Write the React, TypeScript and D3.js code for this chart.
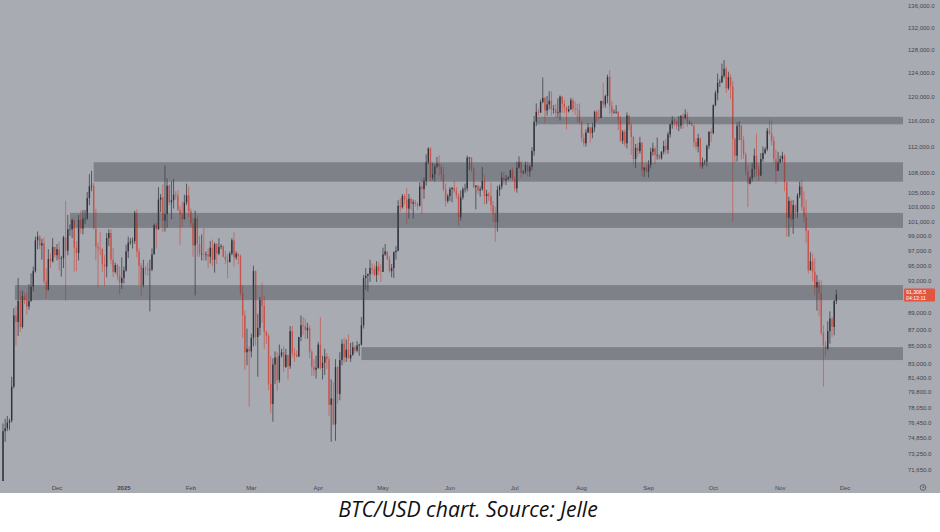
import React, { useMemo } from "react";
import * as d3 from "d3";

// ---------- DATA (prices in thousands of USD, daily candles from 2024-11-06) ----------
const firstDay = "2024-11-06";
const firstOpen = 69.4;

const closes = [
  // Nov 2024 (6-30)
  75.6, 75.9, 76.5, 76.7, 80.4, 88.7, 87.9, 90.5, 87.3, 91.1, 90.6, 89.8, 90.5, 92.3, 94.3, 98.4, 98.9, 97.7, 98.0, 93.0, 91.9, 95.9, 95.6, 97.5, 96.4,
  // Dec 2024
  97.2, 95.9, 96.0, 98.8, 97.0, 99.9, 99.9, 101.2, 97.4, 96.7, 101.2, 100.0, 101.4, 101.4, 104.3, 106.0, 106.1, 100.0, 97.5, 97.3, 97.2, 95.2, 94.9, 98.7, 99.4, 95.8, 94.2, 95.1, 93.7, 92.8, 93.4,
  // Jan 2025
  94.4, 96.9, 98.1, 98.2, 98.3, 102.2, 96.9, 95.0, 92.5, 94.7, 94.6, 94.5, 94.5, 96.5, 100.5, 99.9, 104.1, 104.4, 101.1, 102.0, 106.1, 103.7, 104.0, 104.8, 104.7, 102.6, 102.0, 101.3, 103.7, 104.7, 102.4,
  // Feb 2025
  100.7, 97.7, 101.4, 97.9, 96.6, 96.6, 96.5, 96.5, 96.2, 97.4, 95.8, 97.9, 96.6, 97.5, 97.6, 96.2, 95.8, 95.5, 96.6, 98.4, 96.1, 96.6, 96.3, 91.5, 88.7, 84.3, 84.7, 84.4,
  // Mar 2025
  86.0, 94.3, 86.1, 87.2, 90.6, 89.9, 86.7, 86.2, 80.7, 78.5, 82.9, 83.7, 81.1, 83.9, 84.3, 82.6, 84.0, 82.7, 86.8, 84.2, 84.0, 83.8, 86.1, 87.5, 87.4, 86.9, 87.2, 84.3, 82.6, 82.3, 82.5,
  // Apr 2025
  85.2, 82.5, 83.1, 83.8, 83.5, 78.4, 79.1, 76.3, 82.6, 79.6, 83.4, 85.3, 83.7, 84.6, 83.6, 84.0, 84.9, 84.5, 85.1, 85.2, 87.5, 93.4, 93.7, 93.9, 94.7, 94.6, 93.8, 94.9, 94.3, 94.2,
  // May 2025
  96.5, 96.9, 95.9, 94.3, 94.7, 96.8, 97.0, 103.2, 103.0, 104.6, 104.1, 102.8, 104.2, 103.5, 103.7, 103.5, 103.2, 106.0, 105.6, 106.8, 109.6, 111.7, 107.3, 107.8, 109.0, 109.4, 108.9, 107.8, 105.6, 103.9, 104.6,
  // Jun 2025
  105.6, 105.8, 105.4, 104.7, 101.6, 104.4, 105.6, 105.7, 110.3, 110.3, 108.6, 105.9, 106.1, 105.4, 105.6, 106.8, 104.6, 104.9, 104.6, 103.3, 102.1, 100.9, 105.5, 106.0, 107.3, 106.9, 107.1, 107.3, 108.4, 107.1,
  // Jul 2025
  105.7, 108.8, 109.6, 108.0, 108.2, 109.2, 108.2, 108.9, 111.3, 115.9, 117.5, 117.4, 119.1, 119.8, 117.7, 118.7, 119.3, 117.9, 117.9, 117.3, 117.4, 120.0, 118.8, 118.3, 117.6, 117.9, 119.4, 118.0, 117.9, 117.8, 115.8,
  // Aug 2025
  113.3, 112.5, 114.2, 115.0, 114.1, 115.0, 117.5, 116.7, 116.5, 119.3, 118.7, 120.1, 123.3, 118.4, 117.4, 117.5, 117.5, 116.3, 112.9, 114.3, 112.5, 116.9, 115.4, 113.5, 110.1, 111.8, 111.3, 112.6, 108.4, 108.8, 108.2,
  // Sep 2025
  109.2, 111.2, 111.7, 110.7, 110.7, 110.2, 111.2, 112.1, 111.5, 113.9, 115.5, 116.1, 115.9, 115.3, 115.3, 116.8, 116.5, 117.1, 115.7, 115.7, 115.3, 112.7, 112.0, 113.3, 109.0, 109.6, 109.7, 112.1, 114.3, 114.1,
  // Oct 2025
  118.6, 120.6, 122.3, 122.4, 123.5, 124.7, 121.4, 123.3, 121.7, 113.2, 110.6, 115.2, 115.3, 113.0, 110.8, 108.2, 106.4, 107.2, 108.6, 110.6, 108.5, 107.6, 110.1, 111.0, 111.6, 114.5, 114.1, 112.9, 110.1, 108.3, 109.6,
  // Nov 2025 (1-27)
  110.1, 110.6, 106.6, 101.5, 103.9, 101.3, 103.3, 102.3, 104.7, 106.0, 103.0, 101.6, 99.7, 94.4, 95.6, 94.2, 92.2, 92.9, 91.5, 86.6, 85.1, 84.7, 86.8, 88.3, 87.3, 90.5, 91.3,
];

const highs = [
  76.4, 76.9, 77.2, 76.9, 81.5, 89.6, 89.9, 93.4, 91.8, 91.8, 91.5, 91.6, 92.6, 94.0, 94.9, 98.9, 99.6, 99.1, 98.6, 98.8, 94.7, 97.2, 96.6, 98.7, 97.5,
  97.9, 98.2, 96.3, 99.0, 103.9, 101.9, 100.6, 101.4, 101.2, 98.3, 101.9, 102.5, 102.6, 102.6, 105.2, 107.8, 108.3, 106.5, 102.8, 98.1, 99.5, 97.3, 96.4, 99.4, 99.9, 99.9, 97.4, 95.4, 95.2, 94.9, 96.1,
  94.9, 97.8, 98.9, 98.7, 98.8, 102.5, 102.7, 97.3, 95.4, 95.8, 95.0, 95.4, 95.8, 97.3, 100.7, 100.8, 105.9, 104.9, 106.3, 109.1, 107.2, 106.3, 106.8, 107.1, 105.3, 105.5, 103.2, 103.8, 104.8, 106.4, 106.0,
  102.8, 101.5, 102.5, 101.7, 99.0, 99.2, 100.1, 96.9, 97.3, 98.3, 98.5, 98.1, 98.0, 98.7, 97.9, 97.7, 97.0, 96.6, 96.9, 98.7, 99.5, 96.9, 96.5, 96.5, 92.5, 89.3, 87.1, 85.0,
  86.5, 95.0, 94.4, 88.9, 91.0, 92.8, 91.2, 86.9, 86.5, 83.9, 83.6, 84.4, 84.3, 85.2, 84.7, 85.0, 84.7, 83.9, 87.4, 87.4, 84.8, 84.5, 86.1, 88.7, 88.5, 88.3, 87.8, 87.5, 84.6, 83.5, 83.9,
  85.5, 88.5, 83.9, 84.7, 84.2, 83.8, 81.2, 80.9, 83.5, 82.7, 84.3, 85.8, 86.0, 85.8, 86.4, 85.4, 85.5, 85.1, 85.6, 85.3, 88.5, 93.8, 94.7, 94.0, 95.8, 95.3, 95.1, 95.6, 95.5, 95.2,
  97.4, 97.9, 96.9, 96.3, 95.2, 96.9, 97.6, 104.0, 104.3, 104.9, 104.9, 105.8, 104.9, 104.3, 104.1, 104.0, 103.7, 106.6, 107.1, 107.3, 110.8, 111.9, 111.9, 109.5, 109.3, 110.4, 110.7, 109.3, 108.9, 106.4, 104.9,
  105.9, 105.9, 106.8, 105.9, 105.0, 105.4, 105.9, 106.4, 110.6, 110.4, 110.4, 108.9, 106.2, 106.2, 106.0, 108.9, 107.7, 105.5, 105.2, 106.5, 103.9, 103.1, 106.1, 106.3, 108.1, 108.2, 107.7, 107.5, 108.5, 108.8,
  107.5, 109.7, 110.5, 109.8, 108.4, 109.7, 109.7, 109.2, 111.9, 116.8, 118.9, 118.0, 119.5, 123.2, 119.9, 120.1, 120.9, 120.9, 118.6, 118.8, 119.7, 120.2, 120.1, 119.5, 118.4, 118.5, 119.8, 119.8, 119.2, 118.8, 118.9,
  116.1, 114.0, 114.7, 115.7, 115.1, 115.7, 117.7, 117.8, 117.9, 119.3, 122.3, 120.3, 123.7, 124.5, 119.3, 117.9, 118.6, 117.6, 116.8, 114.6, 114.7, 117.4, 117.0, 115.7, 113.7, 112.4, 112.6, 113.5, 112.7, 108.9, 109.5,
  109.9, 111.8, 112.6, 112.0, 113.4, 110.9, 111.3, 112.9, 113.2, 114.3, 115.6, 116.8, 116.4, 116.1, 116.8, 117.0, 117.3, 117.9, 117.5, 116.1, 115.9, 115.4, 113.3, 114.0, 113.4, 110.3, 110.0, 112.3, 114.4, 114.8,
  118.7, 121.0, 123.9, 122.9, 125.6, 126.2, 125.1, 124.2, 123.8, 122.6, 113.4, 115.8, 116.0, 115.4, 113.6, 111.1, 109.0, 107.5, 109.5, 111.7, 114.0, 109.1, 111.0, 112.0, 111.9, 114.9, 116.3, 116.1, 113.6, 111.6, 111.2,
  110.6, 111.2, 110.8, 106.6, 104.5, 104.1, 104.0, 103.4, 105.0, 106.7, 107.0, 105.3, 104.1, 99.8, 96.8, 96.6, 96.0, 93.8, 93.2, 93.1, 87.5, 85.6, 88.0, 89.2, 88.5, 90.6, 91.9,
];

const lows = [
  69.3, 74.5, 75.6, 75.7, 76.5, 80.2, 85.1, 86.2, 86.7, 87.1, 90.1, 88.8, 89.4, 90.4, 91.7, 94.1, 97.2, 97.2, 95.8, 92.6, 90.8, 91.8, 94.7, 95.4, 96.1,
  95.7, 94.4, 93.6, 94.7, 90.5, 96.4, 99.0, 98.7, 94.2, 94.3, 95.7, 99.3, 99.2, 100.6, 101.2, 103.3, 105.3, 100.0, 95.7, 92.2, 96.4, 94.2, 92.4, 93.5, 97.6, 95.2, 93.5, 94.0, 93.1, 91.3, 92.0,
  92.7, 94.2, 96.0, 97.8, 97.3, 97.9, 96.1, 92.5, 91.2, 92.2, 93.8, 93.7, 89.2, 94.3, 96.5, 97.3, 99.9, 102.3, 99.5, 99.6, 100.1, 103.3, 101.3, 102.8, 104.1, 102.5, 97.8, 100.3, 101.3, 103.3, 101.6,
  100.3, 96.2, 91.2, 96.2, 96.2, 95.7, 95.7, 95.7, 94.7, 95.3, 94.9, 94.1, 95.2, 96.4, 97.2, 96.1, 95.2, 93.4, 95.4, 96.4, 94.9, 95.8, 95.2, 91.2, 86.0, 82.3, 82.8, 78.2,
  83.7, 85.0, 85.1, 81.5, 86.3, 87.8, 84.7, 85.3, 80.0, 77.5, 76.6, 80.7, 79.9, 80.8, 83.7, 82.0, 82.5, 81.2, 82.4, 83.7, 83.2, 83.7, 83.8, 85.6, 86.3, 85.9, 85.9, 83.6, 81.6, 81.6, 81.3,
  82.4, 82.3, 81.2, 81.7, 82.4, 77.2, 74.5, 76.2, 74.6, 78.5, 78.9, 82.8, 83.1, 83.2, 83.6, 83.2, 83.9, 84.2, 84.3, 83.9, 85.1, 87.1, 91.9, 91.7, 92.9, 93.9, 93.6, 92.9, 93.8, 92.9,
  94.2, 96.3, 95.7, 94.1, 93.5, 93.4, 95.8, 96.9, 102.3, 102.8, 103.3, 100.7, 101.4, 102.6, 101.4, 103.1, 102.6, 103.1, 102.0, 104.2, 106.1, 109.3, 106.8, 106.9, 106.7, 108.7, 107.6, 106.8, 105.3, 103.1, 103.6,
  103.9, 103.7, 105.1, 104.2, 100.4, 101.1, 104.1, 105.1, 105.3, 108.4, 108.1, 105.7, 102.7, 104.9, 104.5, 105.4, 103.4, 103.5, 103.9, 102.4, 100.9, 98.2, 99.6, 104.6, 105.6, 106.3, 106.2, 106.9, 107.2, 106.8,
  105.3, 105.1, 108.6, 107.3, 107.8, 107.8, 107.5, 107.4, 108.4, 110.6, 115.2, 116.9, 117.3, 118.9, 115.7, 116.9, 117.9, 116.9, 117.2, 116.5, 116.6, 116.1, 117.4, 117.3, 114.7, 117.4, 117.8, 117.5, 117.0, 115.8, 115.6,
  112.7, 112.0, 112.0, 114.1, 112.6, 113.3, 114.3, 115.9, 116.3, 116.5, 118.1, 118.2, 118.9, 117.2, 116.8, 117.2, 117.2, 114.6, 112.7, 112.4, 112.0, 111.7, 114.6, 110.7, 109.3, 108.7, 110.4, 110.9, 107.5, 107.4, 108.1,
  107.3, 108.7, 110.6, 109.3, 110.0, 109.9, 110.0, 110.8, 110.8, 110.9, 113.4, 114.8, 115.2, 114.7, 114.4, 114.8, 114.8, 116.3, 115.1, 115.5, 115.2, 111.9, 111.5, 111.1, 108.7, 108.6, 109.2, 109.0, 111.6, 112.7,
  113.9, 118.4, 119.4, 121.6, 122.3, 123.1, 120.6, 121.1, 119.6, 101.0, 109.6, 109.7, 113.0, 110.0, 110.1, 107.6, 103.0, 106.3, 106.7, 107.4, 107.5, 106.8, 107.5, 109.7, 110.8, 111.3, 113.8, 112.2, 109.4, 106.4, 108.7,
  109.4, 109.6, 105.3, 98.9, 98.9, 100.3, 99.3, 101.4, 101.5, 104.3, 102.5, 100.8, 98.0, 94.0, 94.6, 93.0, 91.2, 89.3, 88.6, 86.3, 80.4, 83.8, 84.6, 85.3, 86.1, 86.3, 90.1,
];

// Horizontal support / resistance zones (thousands USD)
const zoneStarts = ["2024-12-18T00:00Z", "2024-12-07T00:00Z", "2024-11-11T12:00Z", "2025-04-21T00:00Z", "2025-07-11T00:00Z"];
const zoneLows = [106.7, 100.1, 90.6, 83.4, 115.5];
const zoneHighs = [109.6, 102.2, 92.5, 84.9, 116.7];

// Right price-axis labels
const priceTicks = [136000, 132000, 128000, 124000, 120000, 116000, 112000, 108000, 105000, 103000, 101000, 99000, 97000, 95000, 93000, 89000, 87000, 85000, 83000, 81400, 79800, 78050, 76450, 74850, 73250, 71650];

const lastPriceText = "91,308.5";
const countdownText = "04:13:11";
const captionText = "BTC/USD chart. Source: Jelle";

// ---------- COMPONENT ----------
const W = 940;
const H = 532;
const PLOT_R = 903;
const PLOT_B = 481;
const BG = "#a9abb3";
const UP = "#30323a";
const DOWN = "#c9544b";
const AXIS_TXT = "#43454d";

export default function App() {
  const x = d3
    .scaleUtc()
    .domain([new Date("2024-12-01T00:00Z"), new Date("2025-12-01T00:00Z")])
    .range([57, 845]);
  const y = d3.scaleLog().domain([71650, 136000]).range([470, 6]);

  const candles = useMemo(() => {
    const start = new Date(firstDay + "T00:00Z");
    return closes.map((c, i) => {
      const o = i === 0 ? firstOpen : closes[i - 1];
      return {
        date: d3.utcDay.offset(start, i),
        open: o,
        close: c,
        high: Math.max(highs[i], o, c),
        low: Math.min(lows[i], o, c),
      };
    });
  }, []);

  const monthTicks = x.ticks(d3.utcMonth.every(1));
  const fmtMonth = d3.utcFormat("%b");
  const fmtPrice = d3.format(",.1f");
  const bodyW = 1.4;

  const lastClose = closes[closes.length - 1] * 1000;
  const lastY = y(lastClose);

  return (
    <div style={{ position: "fixed", left: 0, top: 0 }}>
      <svg width={W} height={H} style={{ display: "block" }}>
        <defs>
          <clipPath id="plot">
            <rect x={0} y={0} width={PLOT_R} height={PLOT_B} />
          </clipPath>
        </defs>
        <rect x={0} y={0} width={W} height={H} fill="#ffffff" />
        <rect x={0} y={0} width={W} height={493} fill={BG} />

        <g clipPath="url(#plot)">
          {candles.map((d, i) => {
            const cx = x(d.date);
            const col = d.close >= d.open ? UP : DOWN;
            const yTop = y(Math.max(d.open, d.close) * 1000);
            const yBot = y(Math.min(d.open, d.close) * 1000);
            return (
              <g key={i}>
                <line x1={cx} x2={cx} y1={y(d.high * 1000)} y2={y(d.low * 1000)} stroke={col} strokeWidth={0.7} />
                <rect x={cx - bodyW / 2} y={yTop} width={bodyW} height={Math.max(0.6, yBot - yTop)} fill={col} />
              </g>
            );
          })}
          {zoneStarts.map((s, i) => {
            const x0 = x(new Date(s));
            const y0 = y(zoneHighs[i] * 1000);
            const y1 = y(zoneLows[i] * 1000);
            return <rect key={i} x={x0} y={y0} width={PLOT_R - x0} height={y1 - y0} fill="rgba(66,68,76,0.4)" />;
          })}
        </g>

        {/* right price axis */}
        <g fontFamily="'Liberation Sans', Arial, sans-serif" fontSize={6} fill={AXIS_TXT}>
          {priceTicks.map((p) => (
            <text key={p} x={908} y={y(p)} dy="0.35em">
              {fmtPrice(p)}
            </text>
          ))}
        </g>

        {/* last price label */}
        <g fontFamily="'Liberation Sans', Arial, sans-serif" fontSize={5.2} fill="#ffffff">
          <rect x={904} y={lastY - 6} width={31} height={13} fill="#e2553f" rx={1} />
          <text x={906} y={lastY - 1}>{lastPriceText}</text>
          <text x={906} y={lastY + 5}>{countdownText}</text>
        </g>

        {/* bottom time axis */}
        <g fontFamily="'Liberation Sans', Arial, sans-serif" fontSize={6} fill={AXIS_TXT} textAnchor="middle">
          {monthTicks.map((t) => (
            <text key={+t} x={x(t)} y={490} fontWeight={t.getUTCMonth() === 0 ? "bold" : "normal"}>
              {t.getUTCMonth() === 0 ? String(t.getUTCFullYear()) : fmtMonth(t)}
            </text>
          ))}
        </g>

        {/* clock icon */}
        <g stroke={AXIS_TXT} strokeWidth={0.7} fill="none">
          <circle cx={923} cy={487.5} r={2.8} />
          <path d="M923 485.8 V487.6 H924.4" />
        </g>

        {/* caption */}
        <text
          x={468}
          y={517}
          textAnchor="middle"
          fontFamily="'Open Sans', 'Noto Sans', sans-serif"
          fontStyle="italic"
          fontSize={21.2}
          fill="#111111"
        >
          {captionText}
        </text>
      </svg>
    </div>
  );
}
